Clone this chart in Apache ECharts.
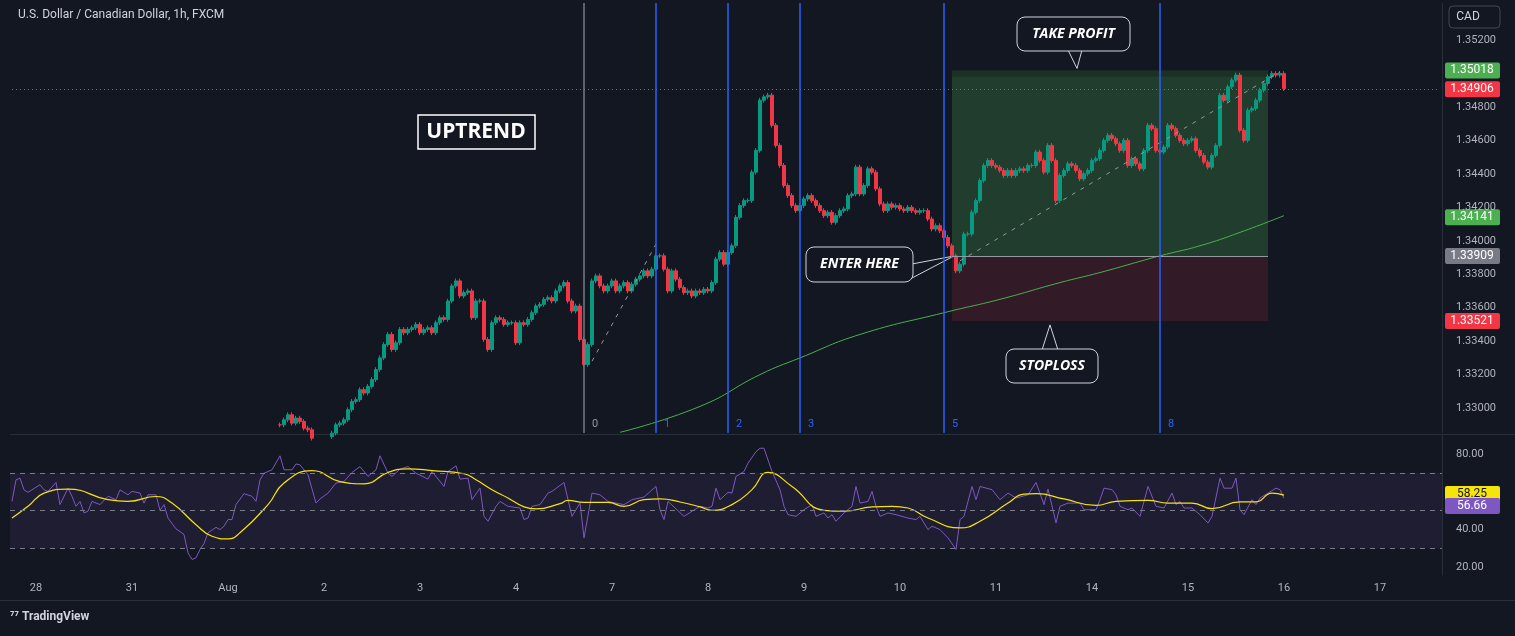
<!DOCTYPE html>
<html><head><meta charset="utf-8">
<script src="https://cdn.jsdelivr.net/npm/echarts@6/dist/echarts.min.js"></script>
<style>html,body{margin:0;padding:0;background:#131722;}#c{width:1515px;height:636px;}</style>
</head><body><div id="c"></div>
<script>
// ---- data ----
const dayLabels = ['28','31','Aug','2','3','4','7','8','9','10','11','14','15','16','17'];
const slotCount = 358, dayOffset = 6, barsPerDay = 24, firstBar = 67;
const closes = [
1.3290,1.3293,1.3296,1.3291,1.3294,1.3292,1.3288,1.3287,1.3282,1.3279,1.3278,1.3281,1.3283,1.3285,1.3290,1.3291,
1.3293,1.3299,1.3304,1.3305,1.3311,1.3309,1.3313,1.3317,1.3323,1.3330,1.3338,1.3344,1.3335,1.3339,1.3347,1.3345,
1.3347,1.3348,1.3350,1.3345,1.3347,1.3348,1.3345,1.3351,1.3354,1.3353,1.3364,1.3373,1.3376,1.3367,1.3369,1.3370,
1.3354,1.3364,1.3364,1.3341,1.3335,1.3351,1.3354,1.3353,1.3350,1.3351,1.3351,1.3339,1.3351,1.3350,1.3353,1.3357,
1.3361,1.3362,1.3365,1.3366,1.3364,1.3370,1.3373,1.3375,1.3364,1.3358,1.3361,1.3341,1.3326,1.3338,1.3376,1.3379,
1.3373,1.3370,1.3373,1.3376,1.3370,1.3373,1.3375,1.3370,1.3374,1.3377,1.3379,1.3382,1.3379,1.3383,1.3391,1.3391,
1.3383,1.3370,1.3382,1.3377,1.3372,1.3369,1.3370,1.3367,1.3370,1.3369,1.3371,1.3370,1.3375,1.3389,1.3393,1.3386,
1.3393,1.3397,1.3414,1.3421,1.3424,1.3424,1.3441,1.3454,1.3484,1.3486,1.3487,1.3469,1.3457,1.3445,1.3433,1.3427,
1.3421,1.3418,1.3421,1.3425,1.3427,1.3424,1.3421,1.3418,1.3415,1.3417,1.3411,1.3415,1.3418,1.3419,1.3427,1.3428,
1.3444,1.3428,1.3433,1.3443,1.3441,1.3431,1.3422,1.3418,1.3422,1.3420,1.3421,1.3419,1.3418,1.3420,1.3418,1.3417,
1.3418,1.3418,1.3413,1.3407,1.3409,1.3406,1.3402,1.3397,1.3391,1.3382,1.3386,1.3404,1.3404,1.3417,1.3424,1.3436,
1.3445,1.3448,1.3445,1.3444,1.3442,1.3439,1.3442,1.3439,1.3442,1.3443,1.3442,1.3445,1.3445,1.3453,1.3448,1.3441,
1.3457,1.3448,1.3424,1.3439,1.3442,1.3446,1.3445,1.3442,1.3437,1.3440,1.3442,1.3448,1.3449,1.3454,1.3460,1.3463,
1.3461,1.3458,1.3454,1.3460,1.3445,1.3449,1.3446,1.3443,1.3454,1.3469,1.3467,1.3454,1.3453,1.3456,1.3469,1.3467,
1.3463,1.3460,1.3458,1.3460,1.3461,1.3454,1.3451,1.3447,1.3444,1.3451,1.3457,1.3487,1.3484,1.3492,1.3496,1.3499,
1.3466,1.3460,1.3478,1.3479,1.3484,1.3490,1.3494,1.3498,1.3500,1.3499,1.3500,1.3491
];
const wick = 0.00014;
const maPoints = [[152,1.32855],[172,1.3301],[187,1.3320],[197,1.3330],[212,1.3344],[233,1.3357],[247,1.3365],[262,1.3375],[272,1.3381],[287,1.3391],[297,1.3397],[307,1.3405],[318,1.3415]];
const trend1 = [[145,1.3328],[161,1.3398]];
const trend2 = [[237,1.3388],[317,1.3501]];
const rsi = [[0,54.9],[1,66.3],[2,67.2],[3,61.0],[4,59.7],[7,63.7],[8,61.0],[9,60.2],[11,64.9],[12,53.2],[14,61.9],[15,57.6],[16,52.3],[17,54.9],[18,48.8],[19,49.7],[20,54.9],[22,53.2],[24,57.6],[26,55.8],[27,61.0],[29,58.4],[30,60.2],[32,59.3],[33,54.0],[34,58.4],[36,58.4],[37,50.2],[38,53.2],[39,46.1],[41,40.4],[43,37.4],[44,27.7],[45,24.2],[46,25.1],[47,29.5],[48,32.6],[49,38.3],[51,41.2],[52,40.0],[53,41.8],[54,45.3],[55,45.3],[56,53.2],[58,59.0],[60,57.6],[61,54.9],[62,66.3],[63,69.8],[65,71.6],[67,79.0],[68,71.6],[70,71.6],[71,74.7],[72,74.2],[74,69.0],[76,54.0],[77,56.2],[79,59.3],[81,64.6],[83,65.4],[85,70.2],[87,73.3],[89,68.1],[91,71.6],[92,79.0],[94,69.8],[95,68.1],[97,72.0],[99,73.3],[101,69.8],[104,66.7],[105,70.7],[108,62.8],[109,70.7],[111,73.7],[112,66.7],[114,67.2],[115,55.8],[117,61.9],[118,47.0],[119,44.4],[121,52.3],[122,54.9],[124,52.3],[127,51.4],[128,45.3],[129,46.1],[130,52.3],[132,53.2],[134,59.3],[135,60.2],[138,64.9],[139,55.8],[140,47.0],[142,54.0],[143,35.6],[145,59.3],[147,58.4],[149,54.9],[151,54.0],[153,53.2],[155,55.8],[158,57.2],[160,61.0],[161,62.8],[162,50.5],[163,45.3],[164,54.9],[168,47.0],[170,49.7],[172,52.3],[174,51.4],[175,52.3],[176,61.9],[177,55.8],[179,59.7],[180,59.3],[181,68.1],[183,70.7],[184,75.1],[186,81.2],[187,83.0],[188,83.0],[190,70.7],[192,61.1],[193,52.3],[194,47.9],[196,47.0],[198,50.5],[200,53.2],[201,47.0],[203,48.8],[204,46.1],[205,47.9],[206,44.4],[208,48.8],[210,52.3],[211,62.8],[212,54.0],[214,54.9],[215,60.2],[216,52.3],[217,47.0],[219,48.8],[221,47.9],[224,46.1],[226,45.3],[227,47.0],[229,40.0],[230,41.8],[232,40.0],[234,35.6],[236,29.5],[237,45.3],[238,47.0],[240,62.8],[241,55.8],[242,62.8],[245,61.1],[247,55.8],[249,59.3],[251,56.7],[254,58.4],[256,64.9],[258,53.2],[259,61.4],[261,43.5],[262,52.3],[264,54.0],[267,54.0],[268,50.5],[271,50.5],[272,55.8],[273,61.9],[275,61.1],[276,58.4],[277,52.3],[279,50.5],[280,51.4],[282,47.0],[284,62.8],[286,52.3],[288,51.4],[290,59.3],[291,53.2],[292,54.9],[293,51.4],[295,51.4],[297,47.9],[299,43.5],[300,47.0],[302,67.2],[303,61.9],[305,61.9],[306,67.2],[307,50.5],[308,47.9],[310,55.8],[311,53.2],[312,56.7],[314,59.3],[316,61.9],[317,61.1],[318,56.66]];
const rsiMa = [[0,46.1],[4,52.3],[8,59.3],[14,61.4],[24,55.8],[29,54.9],[36,57.5],[40,54.0],[46,42.6],[50,36.5],[54,35.1],[57,38.3],[64,53.2],[68,64.6],[75,71.2],[82,65.4],[88,64.2],[94,70.2],[99,72.1],[105,71.2],[113,69.5],[116,66.3],[120,61.1],[124,56.7],[128,52.0],[131,50.9],[137,53.7],[139,55.4],[143,54.4],[149,54.4],[153,52.3],[158,55.8],[162,56.2],[167,54.6],[172,52.0],[175,50.2],[180,53.2],[185,61.1],[189,70.2],[195,62.8],[203,50.2],[208,49.7],[215,52.0],[220,52.3],[224,51.4],[229,46.1],[237,40.9],[242,44.4],[249,54.0],[253,58.8],[256,59.0],[263,56.2],[271,52.8],[276,54.9],[284,55.4],[289,54.0],[295,54.0],[300,51.1],[307,54.7],[311,54.7],[315,59.3],[318,58.25]];
const priceTicks = [1.330,1.332,1.334,1.336,1.338,1.340,1.342,1.344,1.346,1.348,1.352];
const rsiTicks = [20,40,80];
const vLines = [[143,'0','#787b86'],[161,'1','#2962ff'],[179,'2','#2962ff'],[197,'3','#2962ff'],[233,'5','#2962ff'],[287,'8','#2962ff']];
const tpPrice = 1.35018, entryPrice = 1.33909, slPrice = 1.33521, lastPrice = 1.34906, maLast = 1.34141;
const boxStart = 235, boxEnd = 314;

// ---- build ----
const cats = [];
for (let i = 0; i < slotCount; i++) {
  const k = (i - dayOffset) / barsPerDay;
  cats.push(Number.isInteger(k) && k >= 0 && k < dayLabels.length ? dayLabels[k] : '');
}
const candles = [];
for (let i = 0; i < firstBar; i++) candles.push('-');
closes.forEach((c, j) => {
  const o = j === 0 ? c : closes[j - 1];
  candles.push([o, c, Math.min(o, c) - wick, Math.max(o, c) + wick]);
});

const txt = '#b2b5be';
const chart = echarts.init(document.getElementById('c'));
const L = 10, W = 1432;
chart.setOption({
  backgroundColor: '#131722',
  animation: false,
  grid: [
    {left: L, width: W, top: 3, height: 430},
    {left: L, width: W, top: 435, height: 140}
  ],
  xAxis: [
    {type: 'category', data: cats, gridIndex: 0, boundaryGap: true, axisLine: {show: false}, axisTick: {show: false}, axisLabel: {show: false}, splitLine: {show: false}},
    {type: 'category', data: cats, gridIndex: 1, boundaryGap: true, axisLine: {show: false}, axisTick: {show: false},
     axisLabel: {color: txt, fontSize: 11, margin: 8, interval: (i, v) => v !== '', fontFamily: 'Roboto'}, splitLine: {show: false}}
  ],
  yAxis: [
    {type: 'value', gridIndex: 0, position: 'right', min: 1.32851, max: 1.35421, scale: true,
     axisLine: {show: true, lineStyle: {color: '#2a2e39'}}, axisTick: {show: false}, splitLine: {show: false},
     axisLabel: {color: txt, fontSize: 11, margin: 14, fontFamily: 'Roboto', customValues: priceTicks, formatter: v => v.toFixed(5)}},
    {type: 'value', gridIndex: 1, position: 'right', min: 16, max: 90,
     axisLine: {show: true, lineStyle: {color: '#2a2e39'}}, axisTick: {show: false}, splitLine: {show: false},
     axisLabel: {color: txt, fontSize: 11, margin: 14, fontFamily: 'Roboto', customValues: rsiTicks, formatter: v => v.toFixed(2)}}
  ],
  series: [
    {type: 'candlestick', xAxisIndex: 0, yAxisIndex: 0, data: candles, barWidth: 3,
     itemStyle: {color: '#089981', color0: '#f23645', borderColor: '#089981', borderColor0: '#f23645', borderWidth: 1},
     markArea: {silent: true, data: [
       [{xAxis: boxStart, yAxis: tpPrice, itemStyle: {color: 'rgba(76,175,80,0.25)'}}, {xAxis: boxEnd, yAxis: entryPrice}],
       [{xAxis: boxStart, yAxis: tpPrice, itemStyle: {color: 'rgba(20,30,25,0.35)'}}, {xAxis: boxEnd, yAxis: 1.3498}],
       [{xAxis: boxStart, yAxis: entryPrice, itemStyle: {color: 'rgba(242,54,69,0.14)'}}, {xAxis: boxEnd, yAxis: slPrice}]
     ]},
     markLine: {silent: true, symbol: 'none', label: {show: false}, data: [
       [{coord: [0, lastPrice]}, {coord: [slotCount - 1, lastPrice], lineStyle: {color: '#f23645', type: [1, 3], width: 1}}],
       [{coord: [boxStart, entryPrice]}, {coord: [boxEnd, entryPrice], lineStyle: {color: '#9598a1', type: 'solid', width: 1}}],
       ...vLines.map(v => ({xAxis: v[0], lineStyle: {color: v[2], type: 'solid', width: 1.5}}))
     ]}
    },
    {type: 'line', xAxisIndex: 0, yAxisIndex: 0, data: maPoints, smooth: true, symbol: 'none', lineStyle: {color: '#4caf50', width: 1}},
    {type: 'line', xAxisIndex: 0, yAxisIndex: 0, data: trend1, symbol: 'none', lineStyle: {color: '#9598a1', width: 1, type: [4, 6]}},
    {type: 'line', xAxisIndex: 0, yAxisIndex: 0, data: trend2, symbol: 'none', lineStyle: {color: '#9598a1', width: 1, type: [4, 6]}},
    {type: 'line', xAxisIndex: 1, yAxisIndex: 1, data: rsi, symbol: 'none', lineStyle: {color: '#7e57c2', width: 1},
     markArea: {silent: true, itemStyle: {color: 'rgba(126,87,194,0.1)'}, data: [[{yAxis: 70}, {yAxis: 30}]]},
     markLine: {silent: true, symbol: 'none', label: {show: false}, lineStyle: {color: '#787b86', type: [5, 5], width: 1},
       data: [{yAxis: 70}, {yAxis: 50}, {yAxis: 30}]}},
    {type: 'line', xAxisIndex: 1, yAxisIndex: 1, data: rsiMa, smooth: true, symbol: 'none', lineStyle: {color: '#f5e50a', width: 1.2}}
  ]
});

// ---- overlays ----
const py = v => chart.convertToPixel({yAxisIndex: 0}, v);
const ry = v => chart.convertToPixel({yAxisIndex: 1}, v);
const px = i => chart.convertToPixel({xAxisIndex: 0}, i);
const tag = (y, text, bg, fg) => ({type: 'group', children: [
  {type: 'rect', shape: {x: 1445, y: y - 8, width: 55, height: 16, r: 2}, style: {fill: bg}},
  {type: 'text', x: 1472, y: y, style: {text: text, fill: fg || '#fff', font: '12px Roboto', align: 'center', verticalAlign: 'middle'}}
]});
const callout = (x, y, w, h, text, tx, ty, ax1, ax2) => ({type: 'group', children: [
  {type: 'polyline', shape: {points: [[ax1[0], ax1[1]], [tx, ty], [ax2[0], ax2[1]]]}, style: {stroke: '#d1d4dc', fill: '#131722', lineWidth: 1}, z: 1},
  {type: 'rect', shape: {x: x, y: y, width: w, height: h, r: 8}, style: {fill: '#131722', stroke: '#d1d4dc', lineWidth: 1}, z: 2},
  {type: 'text', x: x + w / 2, y: y + h / 2, style: {text: text, fill: '#ffffff', font: 'italic bold 14px "Open Sans"', align: 'center', verticalAlign: 'middle'}, z: 3}
]});
const g = [
  {type: 'text', left: 18, top: 9, style: {text: 'U.S. Dollar / Canadian Dollar, 1h, FXCM', fill: '#d1d4dc', font: '12px Roboto'}},
  {type: 'rect', shape: {x: 1449, y: 6, width: 51, height: 22, r: 4}, style: {fill: '#131722', stroke: '#434651'}},
  {type: 'text', x: 1468, y: 17, style: {text: 'CAD', fill: '#d1d4dc', font: '12px Roboto', align: 'center', verticalAlign: 'middle'}},
  {type: 'rect', shape: {x: 10, y: 434, width: 1505, height: 1}, style: {fill: '#2a2e39'}},
  {type: 'rect', shape: {x: 0, y: 600, width: 1515, height: 1}, style: {fill: '#2a2e39'}},
  {type: 'rect', shape: {x: 418, y: 115, width: 117, height: 34}, style: {fill: '#131722', stroke: '#ffffff', lineWidth: 1.5}},
  {type: 'text', x: 476, y: 132, style: {text: 'UPTREND', fill: '#ffffff', font: 'bold 21px "Open Sans"', align: 'center', verticalAlign: 'middle'}},
  callout(1017, 17, 113, 34, 'TAKE PROFIT', 1077, py(tpPrice) - 2, [1068, 50], [1082, 50]),
  callout(806, 247, 107, 35, 'ENTER HERE', px(boxStart) + 2, py(entryPrice), [912, 264], [912, 278]),
  callout(1006, 349, 92, 34, 'STOPLOSS', 1050, py(slPrice) + 4, [1042, 350], [1058, 350]),
  tag(py(tpPrice), '1.35018', '#4caf50'),
  tag(py(lastPrice), '1.34906', '#f23645'),
  tag(py(maLast), '1.34141', '#4caf50'),
  tag(py(entryPrice), '1.33909', '#787b86'),
  tag(py(slPrice), '1.33521', '#f23645'),
  tag(ry(58.25) - 1, '58.25', '#f5e50a', '#131722'),
  tag(ry(56.66) + 8, '56.66', '#7e57c2'),
  {type: 'text', left: 10, top: 611, style: {text: '⁷⁷ TradingView', fill: '#d1d4dc', font: 'bold 12px Roboto'}}
];
vLines.forEach(v => g.push({type: 'text', x: px(v[0]) + 8, y: 424, style: {text: v[1], fill: v[2] === '#787b86' ? '#9598a1' : '#2962ff', font: '11px Roboto', verticalAlign: 'middle'}}));
chart.setOption({graphic: g});
</script></body></html>
